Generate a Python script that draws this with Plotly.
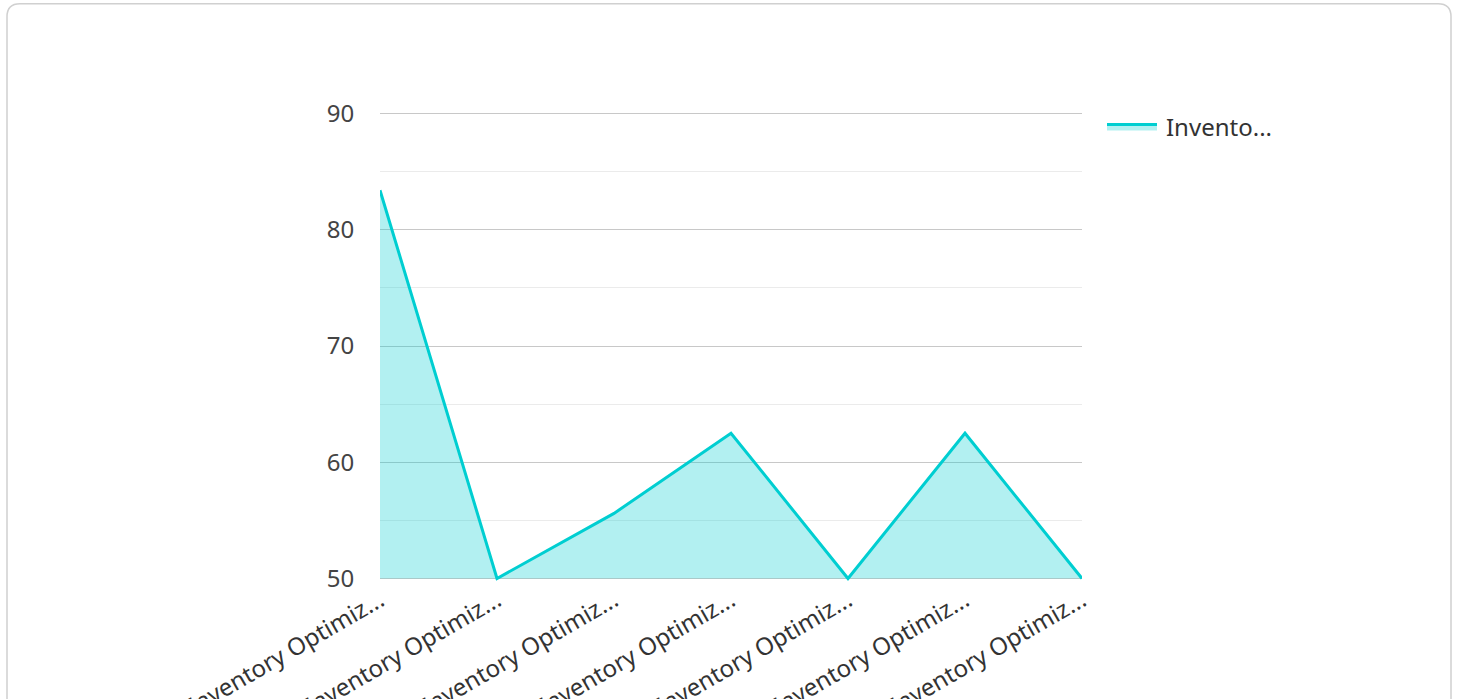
import plotly.graph_objects as go

categories = ["Inventory Optimiz..."] * 7
values = [83.4, 50, 55.6, 62.5, 50, 62.5, 50]
series_name = "Invento..."
y_ticks = [50, 60, 70, 80, 90]
y_min, y_max = 50, 90
baseline = [y_min] * len(values)

W, H = 1458, 699

# target plot area in page pixels
SX0, SX1, SY_TOP, SY_BOT = 380, 1082, 113, 579
unit = (SY_BOT - SY_TOP) / (y_max - y_min)
pad = 2.5
L = SX0
R = W - SX1
T = SY_TOP - pad
B = H - (SY_BOT + pad)
pw, ph = W - L - R, H - T - B
y_range = [y_min - pad / unit, y_max + pad / unit]

def px_x(p):
    return (p - L) / pw

def px_y(p):
    return (H - B - p) / ph

# rounded border path in paper coords
x0, x1, y0, y1, r = 7, 1451, 3, 730, 13
path = (
    f"M {px_x(x0)},{px_y(y1)} L {px_x(x0)},{px_y(y0 + r)} "
    f"Q {px_x(x0)},{px_y(y0)} {px_x(x0 + r)},{px_y(y0)} "
    f"L {px_x(x1 - r)},{px_y(y0)} "
    f"Q {px_x(x1)},{px_y(y0)} {px_x(x1)},{px_y(y0 + r)} "
    f"L {px_x(x1)},{px_y(y1)}"
)

xs = list(range(len(values)))
fig = go.Figure()
fig.add_trace(go.Scatter(
    x=xs, y=baseline, mode="lines", line=dict(width=0, color="rgba(0,0,0,0)"),
    showlegend=False, hoverinfo="skip",
))
fig.add_trace(go.Scatter(
    x=xs, y=values, name="\u2009" + series_name,
    mode="lines", line=dict(color="#00CED1", width=3),
    fill="tonexty", fillcolor="rgba(0,206,209,0.3)",
))

fig.update_layout(
    width=W, height=H,
    margin=dict(l=L, r=R, t=T, b=B, autoexpand=False),
    paper_bgcolor="white", plot_bgcolor="white",
    font=dict(family="Noto Sans", size=18, color="#333"),
    showlegend=True,
    legend=dict(x=px_x(1102), y=px_y(104), xanchor="left", yanchor="top",
                font=dict(size=24, color="#333"), itemwidth=50,
                bgcolor="rgba(0,0,0,0)"),
    shapes=[dict(type="path", path=path, xref="paper", yref="paper",
                 line=dict(color="#d0d0d0", width=1.5), layer="below")],
    xaxis=dict(
        range=[0, len(values) - 1],
        tickmode="array", tickvals=xs, ticktext=categories,
        tickangle=-30, showgrid=False, zeroline=False, showline=False,
        ticks="",
        tickfont=dict(size=24, color="#333"),
    ),
    yaxis=dict(
        range=y_range, tickmode="array", tickvals=y_ticks,
        showgrid=True, gridcolor="#c8c8c8", gridwidth=1,
        zeroline=False, showline=False,
        ticks="outside", ticklen=20, tickcolor="rgba(0,0,0,0)",
        tickfont=dict(size=24, color="#444"),
        minor=dict(dtick=5, tick0=50, showgrid=True, gridcolor="#ebebeb", gridwidth=1),
    ),
)

fig.write_html("out.html", config={"displayModeBar": False},
               post_script="document.body.style.margin='0';")
